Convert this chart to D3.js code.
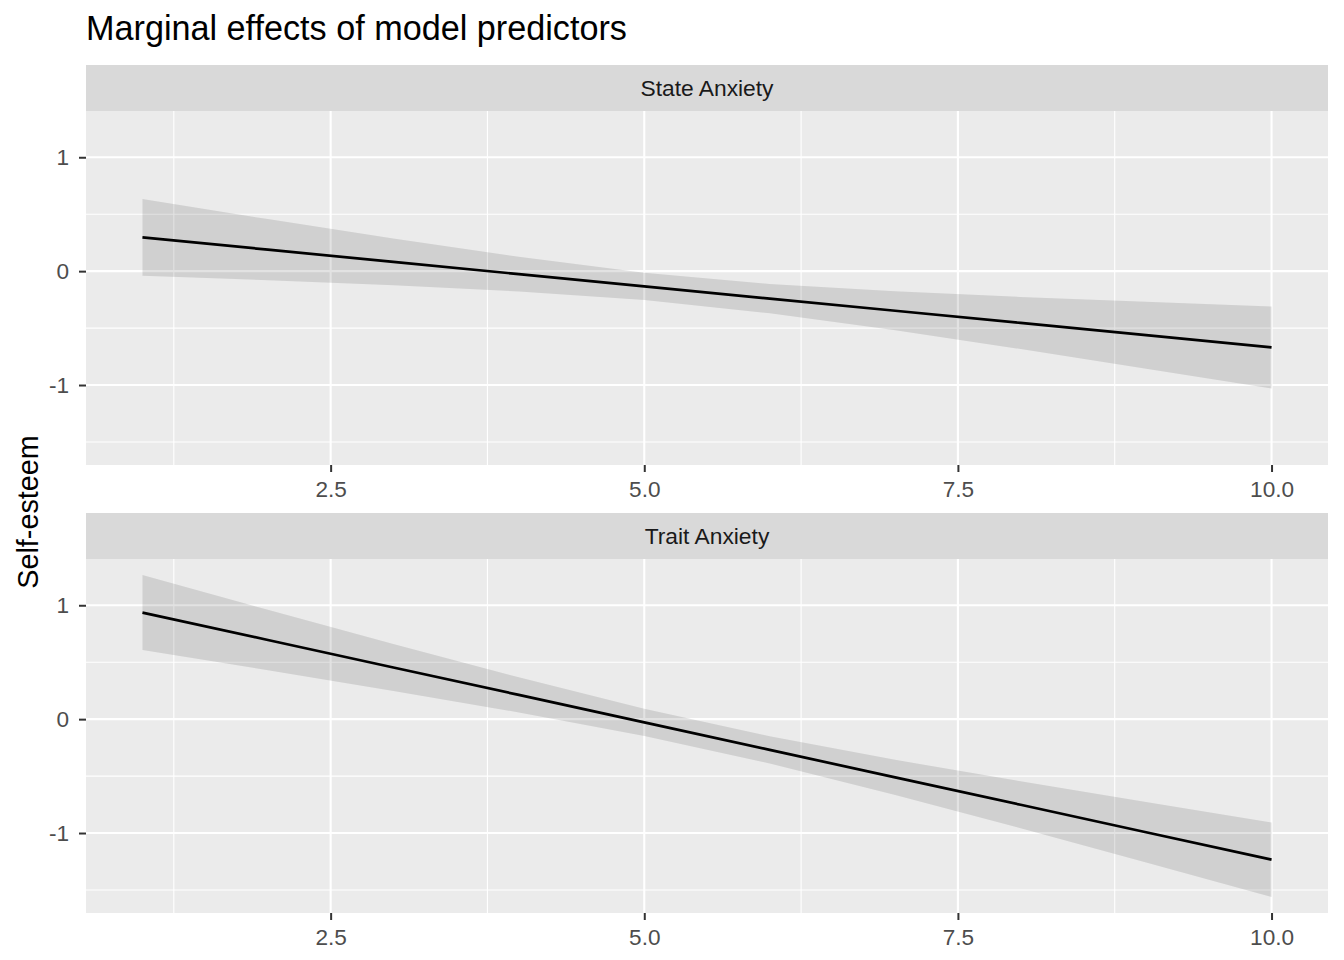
<!DOCTYPE html>
<html>
<head>
<meta charset="utf-8">
<script src="https://cdn.jsdelivr.net/npm/d3@7"></script>
<style>
  body { margin: 0; background: #fff; }
  text { font-family: "Liberation Sans", Arial, sans-serif; }
</style>
</head>
<body>
<div id="chart"></div>
<script>
// data
const xValues = [1, 2, 3, 4, 5, 6, 7, 8, 9, 10];
const panelNames = ["State Anxiety", "Trait Anxiety"];

const stateFit  = [0.296, 0.189, 0.081, -0.026, -0.133, -0.241, -0.348, -0.455, -0.562, -0.670];
const stateLow  = [-0.041, -0.079, -0.124, -0.178, -0.253, -0.370, -0.519, -0.684, -0.856, -1.030];
const stateHigh = [0.633, 0.457, 0.286, 0.126, -0.013, -0.112, -0.177, -0.226, -0.268, -0.310];

const traitFit  = [0.936, 0.695, 0.454, 0.213, -0.028, -0.270, -0.511, -0.752, -0.993, -1.234];
const traitLow  = [0.607, 0.430, 0.248, 0.059, -0.148, -0.390, -0.665, -0.958, -1.258, -1.561];
const traitHigh = [1.265, 0.960, 0.660, 0.367, 0.092, -0.150, -0.357, -0.546, -0.728, -0.907];

const xTicks = [2.5, 5.0, 7.5, 10.0];
const xMinor = [1.25, 3.75, 6.25, 8.75];
const yTicks = [-1, 0, 1];
const yMinor = [-1.5, -0.5, 0.5];

const width = 1344, height = 960;
const left = 86, right = 1328;

const panels = [
  {name: panelNames[0], fit: stateFit, low: stateLow, high: stateHigh, stripTop: 65, top: 111, bottom: 465},
  {name: panelNames[1], fit: traitFit, low: traitLow, high: traitHigh, stripTop: 513, top: 559, bottom: 913}
];

const svg = d3.select("#chart").append("svg")
    .attr("width", width)
    .attr("height", height);

// ggplot style 5% expansion
const xExt = d3.extent(xValues);
const xPad = (xExt[1] - xExt[0]) * 0.05;
const x = d3.scaleLinear()
    .domain([xExt[0] - xPad, xExt[1] + xPad])
    .range([left, right]);

const yExt = d3.extent(stateLow.concat(stateHigh, traitLow, traitHigh));
const yPad = (yExt[1] - yExt[0]) * 0.05;
const yDomain = [yExt[0] - yPad, yExt[1] + yPad];

svg.append("text")
    .attr("x", 86)
    .attr("y", 40)
    .style("font-size", "34.2px")
    .attr("fill", "#000")
    .text("Marginal effects of model predictors");

panels.forEach(function(p) {
  const y = d3.scaleLinear().domain(yDomain).range([p.bottom, p.top]);
  const g = svg.append("g");

  // strip
  g.append("rect")
      .attr("x", left).attr("y", p.stripTop)
      .attr("width", right - left).attr("height", p.top - p.stripTop)
      .attr("fill", "#D9D9D9");
  g.append("text")
      .attr("x", (left + right) / 2)
      .attr("y", (p.stripTop + p.top) / 2)
      .attr("dy", "0.36em")
      .attr("text-anchor", "middle")
      .style("font-size", "22.8px")
      .attr("fill", "#1A1A1A")
      .text(p.name);

  // panel background
  g.append("rect")
      .attr("x", left).attr("y", p.top)
      .attr("width", right - left).attr("height", p.bottom - p.top)
      .attr("fill", "#EBEBEB");

  // grid
  g.selectAll(".ymin").data(yMinor).join("line")
      .attr("x1", left).attr("x2", right)
      .attr("y1", d => y(d)).attr("y2", d => y(d))
      .attr("stroke", "#fff").attr("stroke-width", 1.1);
  g.selectAll(".xmin").data(xMinor).join("line")
      .attr("y1", p.top).attr("y2", p.bottom)
      .attr("x1", d => x(d)).attr("x2", d => x(d))
      .attr("stroke", "#fff").attr("stroke-width", 1.1);
  g.selectAll(".ymaj").data(yTicks).join("line")
      .attr("x1", left).attr("x2", right)
      .attr("y1", d => y(d)).attr("y2", d => y(d))
      .attr("stroke", "#fff").attr("stroke-width", 2.1);
  g.selectAll(".xmaj").data(xTicks).join("line")
      .attr("y1", p.top).attr("y2", p.bottom)
      .attr("x1", d => x(d)).attr("x2", d => x(d))
      .attr("stroke", "#fff").attr("stroke-width", 2.1);

  // confidence band + line
  const area = d3.area()
      .x((d, i) => x(xValues[i]))
      .y0((d, i) => y(p.low[i]))
      .y1((d, i) => y(p.high[i]));
  g.append("path")
      .datum(p.fit)
      .attr("d", area)
      .attr("fill", "#000")
      .attr("fill-opacity", 0.115);

  const line = d3.line()
      .x((d, i) => x(xValues[i]))
      .y(d => y(d));
  g.append("path")
      .datum(p.fit)
      .attr("d", line)
      .attr("fill", "none")
      .attr("stroke", "#000")
      .attr("stroke-width", 2.7);

  // axes
  const xAxis = g.append("g")
      .attr("transform", `translate(0,${p.bottom})`)
      .call(d3.axisBottom(x).tickValues(xTicks).tickFormat(d3.format(".1f")).tickSize(7).tickPadding(9));
  const yAxis = g.append("g")
      .attr("transform", `translate(${left},0)`)
      .call(d3.axisLeft(y).tickValues(yTicks).tickFormat(d => String(d)).tickSize(7).tickPadding(10));

  [xAxis, yAxis].forEach(function(a) {
    a.select(".domain").remove();
    a.selectAll(".tick line").attr("stroke", "#333333").attr("stroke-width", 2);
    a.selectAll(".tick text")
        .attr("fill", "#4D4D4D")
        .style("font-size", "22.6px")
        .style("font-family", "'Liberation Sans', Arial, sans-serif");
  });
});

svg.append("text")
    .attr("transform", `translate(38,${(111 + 913) / 2}) rotate(-90)`)
    .attr("text-anchor", "middle")
    .style("font-size", "28.8px")
    .attr("fill", "#000")
    .text("Self-esteem");
</script>
</body>
</html>
